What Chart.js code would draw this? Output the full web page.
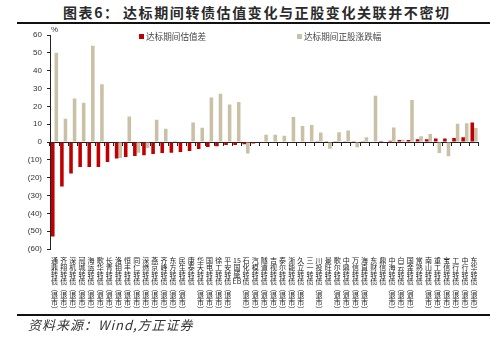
<!DOCTYPE html>
<html>
<head>
<meta charset="utf-8">
<script src="https://cdn.jsdelivr.net/npm/chart.js@4/dist/chart.umd.min.js"></script>
<style>
body{margin:0;width:500px;height:337px;background:#fff;position:relative;overflow:hidden;font-family:"Noto Sans CJK SC",sans-serif;}
.t{position:absolute;top:3px;font-size:14px;font-weight:bold;color:#2a2a2a;white-space:nowrap;letter-spacing:1.6px;line-height:18px;}
.rule{position:absolute;left:17px;width:473px;height:2px;background:#111;}
#source{position:absolute;left:28px;top:317px;font-size:13px;font-style:italic;color:#333;letter-spacing:1px;white-space:nowrap;line-height:16px;}
#wrap{position:absolute;left:0;top:25px;width:500px;height:296px;}
.box{position:absolute;top:34px;width:5px;height:5px;}
.leg{position:absolute;top:31px;font-size:8.6px;color:#444;white-space:nowrap;line-height:11px;}
#pct{position:absolute;left:51px;top:25px;font-size:8px;color:#333;font-family:"Liberation Sans",sans-serif;}
</style>
</head>
<body>
<div class="t" style="left:63px">图表6：</div>
<div class="t" style="left:123px">达标期间转债估值变化与正股变化关联并不密切</div>
<div class="rule" style="top:22px"></div>
<div id="wrap"><canvas id="chart"></canvas></div>
<div id="pct">%</div>
<div class="box" style="left:139px;background:#C00000"></div>
<div class="leg" style="left:146px">达标期间估值差</div>
<div class="box" style="left:297px;background:#C9C0A6"></div>
<div class="leg" style="left:304px">达标期间正股涨跌幅</div>
<div class="rule" style="top:314px"></div>
<div id="source">资料来源：Wind,方正证券</div>
<script>
// category names
const categories = [
  '通鼎转债(退市)', '齐翔转债(退市)', '深机转债(退市)', '冠城转债(退市)', '海运转债(退市)',
  '歌华转债(退市)', '长青转债(退市)', '洛钼转债(退市)', '恒丰转债(退市)', '同仁转债(退市)',
  '深燃转债(退市)', '燕京转债(退市)', '齐峰转债(退市)', '东方转债(退市)', '民生转债(退市)',
  '康泰转债', '华天转债(退市)', '国电转债(退市)', '徐工转债(退市)', '平安转债(退市)',
  '15国盛EB', '石化转债(退市)', '汽模转债(退市)', '隧道转债(退市)', '吉视转债(退市)',
  '泰尔转债(退市)', '浙能转债(退市)', '久立转债(退市)', '三一转债', '川投转债(退市)',
  '景旺转债', '歌尔转债(退市)', '中鼎转债(退市)', '万信转债(退市)', '海直转债(退市)',
  '东财转债', '鼎信转债', '中海转债(退市)', '白云转债(退市)', '国金转债(退市)',
  '常熟转债', '南山转债(退市)', '重工转债(退市)', '宝信转债(退市)', '工行转债(退市)',
  '中行转债(退市)', '东华转债(退市)'
];

// 达标期间估值差 (%)
const valuationDiff = [
  -53, -25, -17.7, -14, -14, -14, -11.2, -9.3, -8.4, -7.8,
  -7.4, -6.7, -6.1, -6.0, -5.6, -5.0, -3.9, -2.8, -2.4, -1.7,
  -1.7, -1.3, -0.9, -0.5, -0.3, -0.2, -0.2, -0.1, -0.1, 0.1,
  0.1, 0.1, 0.2, 0.2, 0.2, 0.3, 0.6, 0.7, 1.1, 1.1,
  1.5, 1.5, 2.0, 2.0, 2.2, 2.6, 11
];

// 达标期间正股涨跌幅 (%)
const stockChange = [
  50, 13, 24.4, 22, 54, 32.4, 0, -9, 14.3, -6,
  -3.4, 12.5, 7.5, 0.7, 0, 11, 8, 25, 27, 21,
  22.5, -6.5, 0, 4, 4, 3.5, 14, 9, 9.6, 5.3,
  -3.8, 5.4, 6.5, -3, 2.7, 26, 0, 8.2, 1.2, 23.6,
  3.2, 4.5, -6.1, -8, 10.2, 10.5, 7.8
];

const yTicks = [-60, -50, -40, -30, -20, -10, 0, 10, 20, 30, 40, 50, 60];

// turn a label into a vertical stack of lines
function vertical(s) {
  s = s.replace('(', '︵').replace(')', '︶');
  return s.match(/[0-9A-Za-z]+|./g);
}

const labels = categories.map(vertical);

new Chart(document.getElementById('chart'), {
  type: 'bar',
  data: {
    labels: labels,
    datasets: [
      {label: '达标期间估值差', data: valuationDiff, backgroundColor: '#C00000',
       categoryPercentage: 0.78, barPercentage: 1.0},
      {label: '达标期间正股涨跌幅', data: stockChange, backgroundColor: '#C9C0A6',
       categoryPercentage: 0.78, barPercentage: 1.0}
    ]
  },
  options: {
    responsive: true,
    maintainAspectRatio: false,
    animation: false,
    layout: {padding: {top: 10, right: 21.4, bottom: 0, left: 0}},
    plugins: {legend: {display: false}, tooltip: {enabled: false}},
    scales: {
      x: {
        type: 'category',
        position: {y: 0},
        offset: true,
        grid: {display: true, drawOnChartArea: false, offset: true, tickLength: 3, color: '#222'},
        border: {display: true, color: '#222'},
        ticks: {display: false}
      },
      xl: {
        type: 'category',
        axis: 'x',
        position: 'bottom',
        offset: true,
        grid: {display: false, drawTicks: false},
        border: {display: false},
        ticks: {
          autoSkip: false, maxRotation: 0, minRotation: 0, padding: 8,
          color: '#222',
          font: {family: 'Noto Sans CJK SC', size: 7, lineHeight: 1}
        }
      },
      y: {
        min: -60,
        max: 60,
        afterBuildTicks: function(axis) { axis.ticks = yTicks.map(v => ({value: v})); },
        afterFit: function(axis) { axis.width = 50; },
        grid: {display: true, drawOnChartArea: false, tickLength: 3, color: '#222'},
        border: {display: true, color: '#222'},
        ticks: {
          padding: 5,
          color: '#333',
          font: {family: 'Liberation Sans', size: 8},
          callback: v => v < 0 ? '(' + (-v) + ')' : String(v)
        }
      }
    }
  }
});
</script>
</body>
</html>
